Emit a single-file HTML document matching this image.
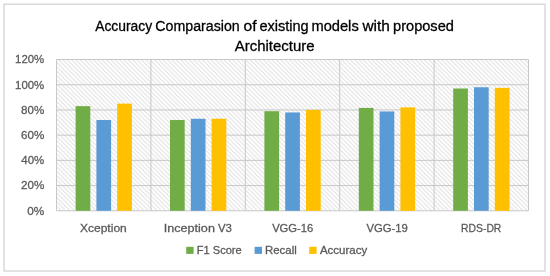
<!DOCTYPE html>
<html><head><meta charset="utf-8"><style>
html,body{margin:0;padding:0;background:#fff;width:550px;height:276px;overflow:hidden}
svg{display:block;will-change:transform}
.ax{font-family:"Liberation Sans",sans-serif;fill:#595959;stroke:#595959;stroke-width:0.28px}
.lg{font-family:"Liberation Sans",sans-serif;fill:#595959;stroke:#595959;stroke-width:0.28px}
.ti{font-family:"Liberation Sans",sans-serif;fill:#000;stroke:#000;stroke-width:0.3px}
</style></head><body>
<svg width="550" height="276" viewBox="0 0 550 276">
<defs>
<pattern id="h" patternUnits="userSpaceOnUse" x="1.5" width="3.08" height="3.08" patternTransform="rotate(-45)">
<rect width="3.08" height="3.08" fill="#ffffff"/>
<rect x="0" y="0" width="1.3" height="3.08" fill="#e7e7e7"/>
</pattern>
</defs>
<rect x="4" y="4.2" width="541" height="266.8" fill="#fff" stroke="#d9d9d9" stroke-width="1.5"/>
<rect x="56.5" y="59.5" width="472.0" height="151.3" fill="url(#h)"/>
<line x1="56.5" y1="59.50" x2="528.5" y2="59.50" stroke="#c8c8c8" stroke-width="1"/>
<line x1="56.5" y1="84.72" x2="528.5" y2="84.72" stroke="#c8c8c8" stroke-width="1"/>
<line x1="56.5" y1="109.93" x2="528.5" y2="109.93" stroke="#c8c8c8" stroke-width="1"/>
<line x1="56.5" y1="135.15" x2="528.5" y2="135.15" stroke="#c8c8c8" stroke-width="1"/>
<line x1="56.5" y1="160.37" x2="528.5" y2="160.37" stroke="#c8c8c8" stroke-width="1"/>
<line x1="56.5" y1="185.58" x2="528.5" y2="185.58" stroke="#c8c8c8" stroke-width="1"/>
<line x1="56.5" y1="210.80" x2="528.5" y2="210.80" stroke="#c8c8c8" stroke-width="1"/>
<line x1="56.50" y1="59.5" x2="56.50" y2="210.8" stroke="#c8c8c8" stroke-width="1"/>
<line x1="150.90" y1="59.5" x2="150.90" y2="210.8" stroke="#c8c8c8" stroke-width="1"/>
<line x1="245.30" y1="59.5" x2="245.30" y2="210.8" stroke="#c8c8c8" stroke-width="1"/>
<line x1="339.70" y1="59.5" x2="339.70" y2="210.8" stroke="#c8c8c8" stroke-width="1"/>
<line x1="434.10" y1="59.5" x2="434.10" y2="210.8" stroke="#c8c8c8" stroke-width="1"/>
<line x1="528.50" y1="59.5" x2="528.50" y2="210.8" stroke="#c8c8c8" stroke-width="1"/>
<rect x="75.60" y="106.15" width="14.7" height="104.65" fill="#70AD47"/>
<rect x="96.40" y="120.02" width="14.7" height="90.78" fill="#5B9BD5"/>
<rect x="117.20" y="103.63" width="14.7" height="107.17" fill="#FFC000"/>
<rect x="170.00" y="120.02" width="14.7" height="90.78" fill="#70AD47"/>
<rect x="190.80" y="118.76" width="14.7" height="92.04" fill="#5B9BD5"/>
<rect x="211.60" y="118.76" width="14.7" height="92.04" fill="#FFC000"/>
<rect x="264.40" y="111.19" width="14.7" height="99.61" fill="#70AD47"/>
<rect x="285.20" y="112.45" width="14.7" height="98.35" fill="#5B9BD5"/>
<rect x="306.00" y="109.93" width="14.7" height="100.87" fill="#FFC000"/>
<rect x="358.80" y="107.92" width="14.7" height="102.88" fill="#70AD47"/>
<rect x="379.60" y="111.45" width="14.7" height="99.35" fill="#5B9BD5"/>
<rect x="400.40" y="107.41" width="14.7" height="103.39" fill="#FFC000"/>
<rect x="453.20" y="88.50" width="14.7" height="122.30" fill="#70AD47"/>
<rect x="474.00" y="87.24" width="14.7" height="123.56" fill="#5B9BD5"/>
<rect x="494.80" y="87.87" width="14.7" height="122.93" fill="#FFC000"/>
<text x="27.23" y="214.60" class="ax" font-size="11.7" textLength="17.02" lengthAdjust="spacingAndGlyphs">0%</text>
<text x="20.97" y="189.38" class="ax" font-size="11.7" textLength="23.26" lengthAdjust="spacingAndGlyphs">20%</text>
<text x="21.29" y="164.17" class="ax" font-size="11.7" textLength="22.93" lengthAdjust="spacingAndGlyphs">40%</text>
<text x="20.97" y="138.95" class="ax" font-size="11.7" textLength="23.26" lengthAdjust="spacingAndGlyphs">60%</text>
<text x="21.06" y="113.73" class="ax" font-size="11.7" textLength="23.16" lengthAdjust="spacingAndGlyphs">80%</text>
<text x="15.04" y="88.52" class="ax" font-size="11.7" textLength="29.19" lengthAdjust="spacingAndGlyphs">100%</text>
<text x="15.04" y="63.30" class="ax" font-size="11.7" textLength="29.19" lengthAdjust="spacingAndGlyphs">120%</text>
<text x="79.93" y="231.60" class="ax" font-size="11.5" textLength="46.87" lengthAdjust="spacingAndGlyphs">Xception</text>
<text x="163.73" y="231.60" class="ax" font-size="11.5" textLength="51.20" lengthAdjust="spacingAndGlyphs">Inception</text>
<text x="217.94" y="231.60" class="ax" font-size="11.5" textLength="13.95" lengthAdjust="spacingAndGlyphs">V3</text>
<text x="272.14" y="231.60" class="ax" font-size="11.5" textLength="41.24" lengthAdjust="spacingAndGlyphs">VGG-16</text>
<text x="366.44" y="231.60" class="ax" font-size="11.5" textLength="41.47" lengthAdjust="spacingAndGlyphs">VGG-19</text>
<text x="461.04" y="231.60" class="ax" font-size="11.5" textLength="40.34" lengthAdjust="spacingAndGlyphs">RDS-DR</text>
<rect x="186.2" y="246.8" width="7.4" height="7.1" fill="#70AD47"/>
<text x="196.89" y="253.60" class="lg" font-size="10.5" textLength="44.80" lengthAdjust="spacingAndGlyphs">F1 Score</text>
<rect x="254.6" y="246.8" width="7.4" height="7.1" fill="#5B9BD5"/>
<text x="265.06" y="253.60" class="lg" font-size="10.5" textLength="31.70" lengthAdjust="spacingAndGlyphs">Recall</text>
<rect x="309.2" y="246.8" width="7.4" height="7.1" fill="#FFC000"/>
<text x="319.97" y="253.60" class="lg" font-size="10.5" textLength="47.16" lengthAdjust="spacingAndGlyphs">Accuracy</text>
<text x="95.17" y="30.60" class="ti" font-size="15.3" textLength="56.97" lengthAdjust="spacingAndGlyphs">Accuracy</text>
<text x="155.29" y="30.60" class="ti" font-size="15.3" textLength="84.43" lengthAdjust="spacingAndGlyphs">Comparasion</text>
<text x="243.44" y="30.60" class="ti" font-size="15.3" textLength="13.05" lengthAdjust="spacingAndGlyphs">of</text>
<text x="259.38" y="30.60" class="ti" font-size="15.3" textLength="49.34" lengthAdjust="spacingAndGlyphs">existing</text>
<text x="311.41" y="30.60" class="ti" font-size="15.3" textLength="47.32" lengthAdjust="spacingAndGlyphs">models</text>
<text x="362.40" y="30.60" class="ti" font-size="15.3" textLength="27.42" lengthAdjust="spacingAndGlyphs">with</text>
<text x="393.05" y="30.60" class="ti" font-size="15.3" textLength="60.86" lengthAdjust="spacingAndGlyphs">proposed</text>
<text x="234.76" y="50.60" class="ti" font-size="15.3" textLength="79.78" lengthAdjust="spacingAndGlyphs">Architecture</text>
</svg>
</body></html>
